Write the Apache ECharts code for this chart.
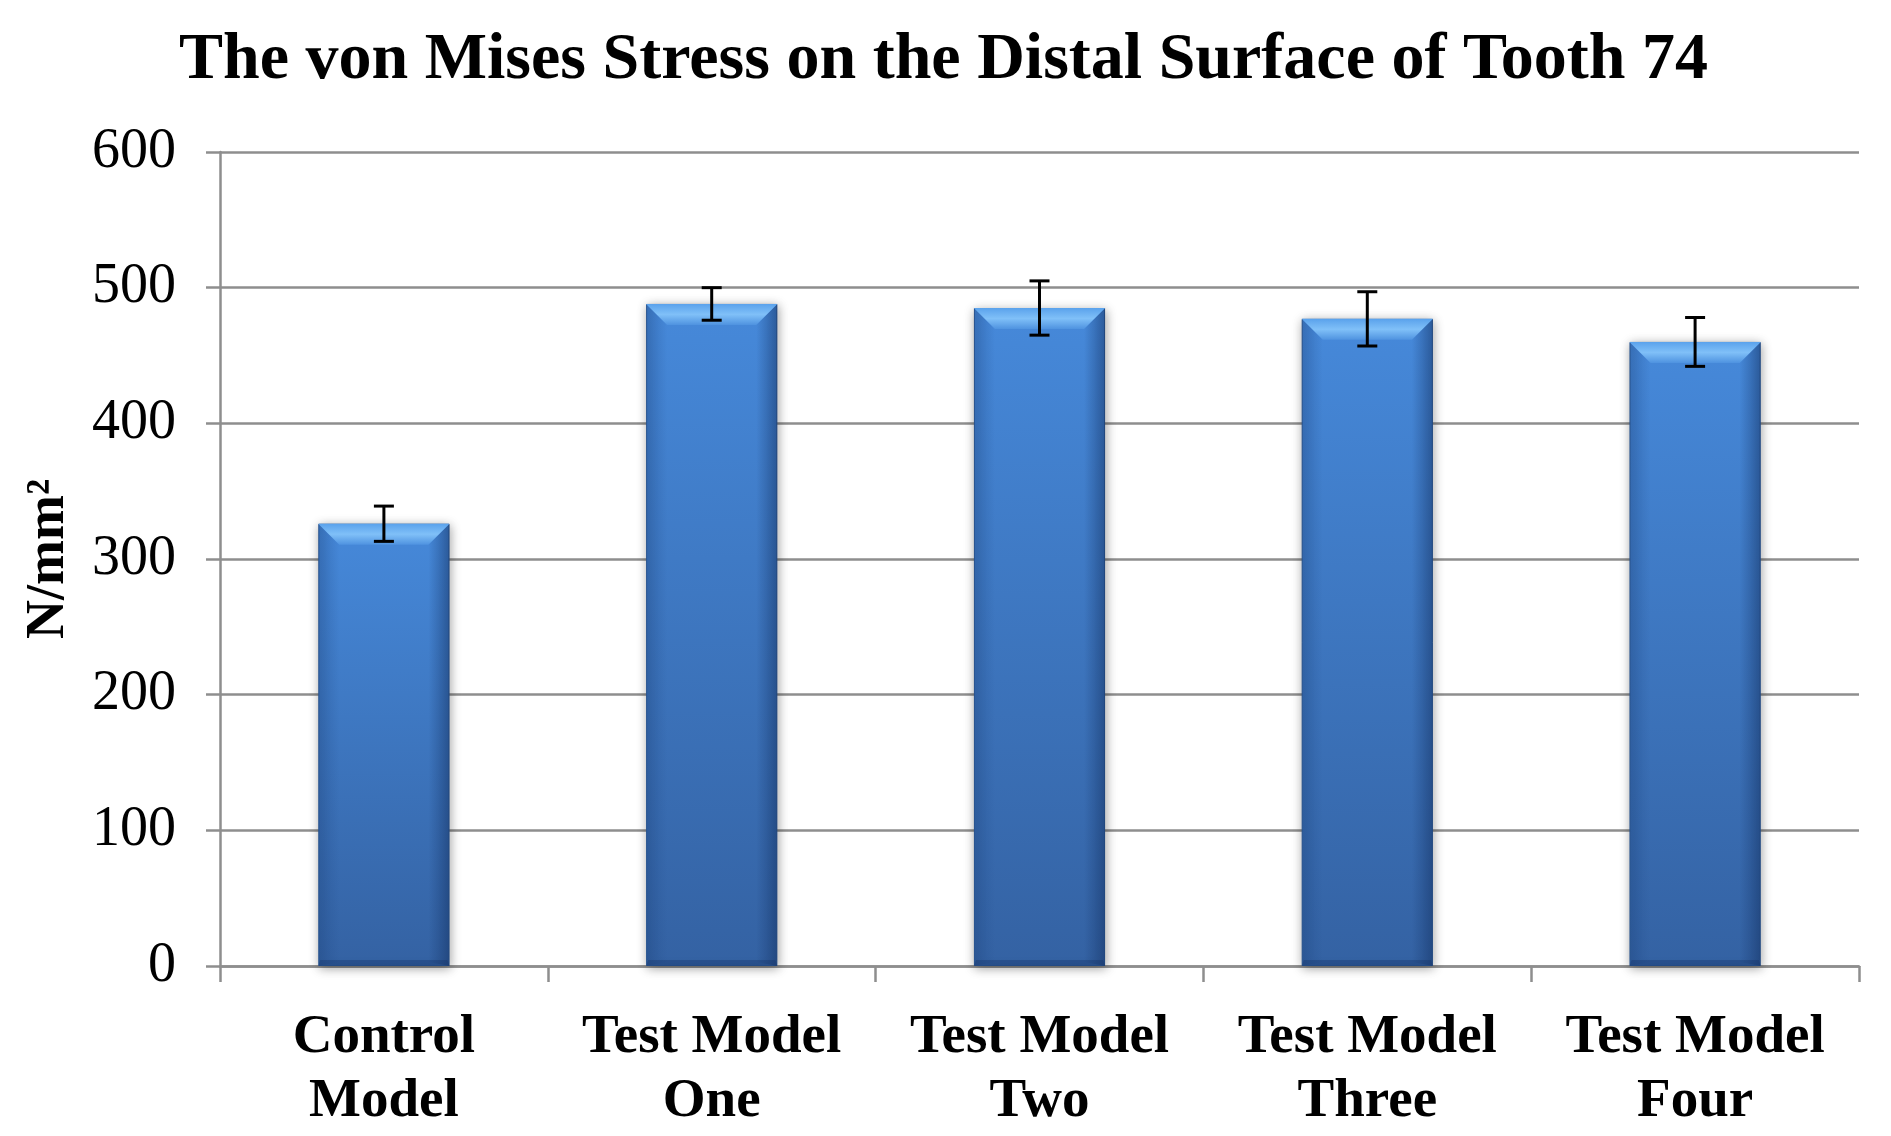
<!DOCTYPE html>
<html>
<head>
<meta charset="utf-8">
<script src="https://cdn.jsdelivr.net/npm/echarts@6/dist/echarts.min.js"></script>
<style>html,body{margin:0;padding:0;background:#fff}#c{width:1891px;height:1136px}</style>
</head>
<body>
<div id="c"></div>
<script>
const categories = ['Control\nModel', 'Test Model\nOne', 'Test Model\nTwo', 'Test Model\nThree', 'Test Model\nFour'];
const values = [326, 488, 485, 477, 460];
const errors = [13, 12, 20, 20, 18];
const yTicks = { min: 0, max: 600, interval: 100 };

const chart = echarts.init(document.getElementById('c'));
const FONT = '"Liberation Serif", "Times New Roman", serif';
const gray = '#8e8e8e';

const errData = values.map((v, i) => [i, v - errors[i], v + errors[i]]);
const bevelData = values.map((v, i) => [i, v]);

chart.setOption({
  animation: false,
  backgroundColor: '#fff',
  title: {
    text: 'The von Mises Stress on the Distal Surface of Tooth 74',
    left: 174,
    top: 23,
    textStyle: { fontFamily: FONT, fontWeight: 'bold', fontSize: 66, color: '#000' }
  },
  grid: { left: 220, right: 32, top: 152, bottom: 170 },
  xAxis: {
    type: 'category',
    data: categories,
    axisLine: { lineStyle: { color: gray, width: 2.5 } },
    axisTick: { show: true, length: 16, lineStyle: { color: gray, width: 2.5 } },
    axisLabel: { fontFamily: FONT, fontWeight: 'bold', fontSize: 55, lineHeight: 64, color: '#000', margin: 40, interval: 0 }
  },
  yAxis: {
    type: 'value',
    min: yTicks.min, max: yTicks.max, interval: yTicks.interval,
    name: 'N/mm²',
    nameLocation: 'middle',
    nameGap: 144,
    nameTextStyle: { fontFamily: FONT, fontWeight: 'bold', fontSize: 54, color: '#000' },
    axisLine: { show: true, lineStyle: { color: gray, width: 2.5 } },
    axisTick: { show: true, length: 14, lineStyle: { color: gray, width: 2.5 } },
    splitLine: { lineStyle: { color: gray, width: 2.5 } },
    axisLabel: { fontFamily: FONT, fontSize: 56, color: '#000', margin: 44 }
  },
  series: [
    {
      type: 'bar',
      data: values,
      barWidth: '40%',
      itemStyle: {
        color: new echarts.graphic.LinearGradient(0, 0, 0, 1, [
          { offset: 0, color: '#4689da' },
          { offset: 1, color: '#3462a3' }
        ]),
        borderColor: '#2c5a96',
        borderWidth: 1,
        shadowBlur: 10,
        shadowColor: 'rgba(0,0,0,0.35)',
        shadowOffsetX: 1,
        shadowOffsetY: 2
      },
      z: 2
    },
    {
      type: 'custom',
      data: bevelData,
      z: 3,
      renderItem: function (params, api) {
        const top = api.coord([api.value(0), api.value(1)]);
        const bottom = api.coord([api.value(0), 0]);
        const bw = api.size([1, 0])[0] * 0.4;
        const x0 = top[0] - bw / 2, x1 = top[0] + bw / 2;
        const y0 = top[1], yb = bottom[1];
        const b = 21;
        return {
          type: 'group',
          children: [
            { type: 'polygon', shape: { points: [[x0, y0], [x0 + b, y0 + b], [x0 + b, yb - 4], [x0, yb]] },
              style: { fill: new echarts.graphic.LinearGradient(0, 0, 1, 0, [
                { offset: 0, color: 'rgba(30,70,130,0.35)' }, { offset: 1, color: 'rgba(30,70,130,0)' }]) } },
            { type: 'polygon', shape: { points: [[x1, y0], [x1 - b, y0 + b], [x1 - b, yb - 4], [x1, yb]] },
              style: { fill: new echarts.graphic.LinearGradient(1, 0, 0, 0, [
                { offset: 0, color: 'rgba(20,50,100,0.5)' }, { offset: 1, color: 'rgba(20,50,100,0)' }]) } },
            { type: 'polygon', shape: { points: [[x0, y0], [x1, y0], [x1 - b, y0 + b], [x0 + b, y0 + b]] },
              style: { fill: new echarts.graphic.LinearGradient(0, 0, 0, 1, [
                { offset: 0, color: '#5aa2ec' }, { offset: 0.5, color: '#80c0f8' }, { offset: 1, color: '#4f93e0' }]) } },
            { type: 'polygon', shape: { points: [[x0 + 2, yb - 6], [x1 - 2, yb - 6], [x1, yb], [x0, yb]] },
              style: { fill: 'rgba(20,50,100,0.35)' } }
          ]
        };
      }
    },
    {
      type: 'custom',
      data: errData,
      z: 5,
      renderItem: function (params, api) {
        const lo = api.coord([api.value(0), api.value(1)]);
        const hi = api.coord([api.value(0), api.value(2)]);
        const cap = 10;
        const st = { stroke: '#000', lineWidth: 3 };
        return {
          type: 'group',
          children: [
            { type: 'line', shape: { x1: hi[0], y1: hi[1], x2: lo[0], y2: lo[1] }, style: st },
            { type: 'line', shape: { x1: hi[0] - cap, y1: hi[1], x2: hi[0] + cap, y2: hi[1] }, style: st },
            { type: 'line', shape: { x1: lo[0] - cap, y1: lo[1], x2: lo[0] + cap, y2: lo[1] }, style: st }
          ]
        };
      }
    }
  ]
});
</script>
</body>
</html>
